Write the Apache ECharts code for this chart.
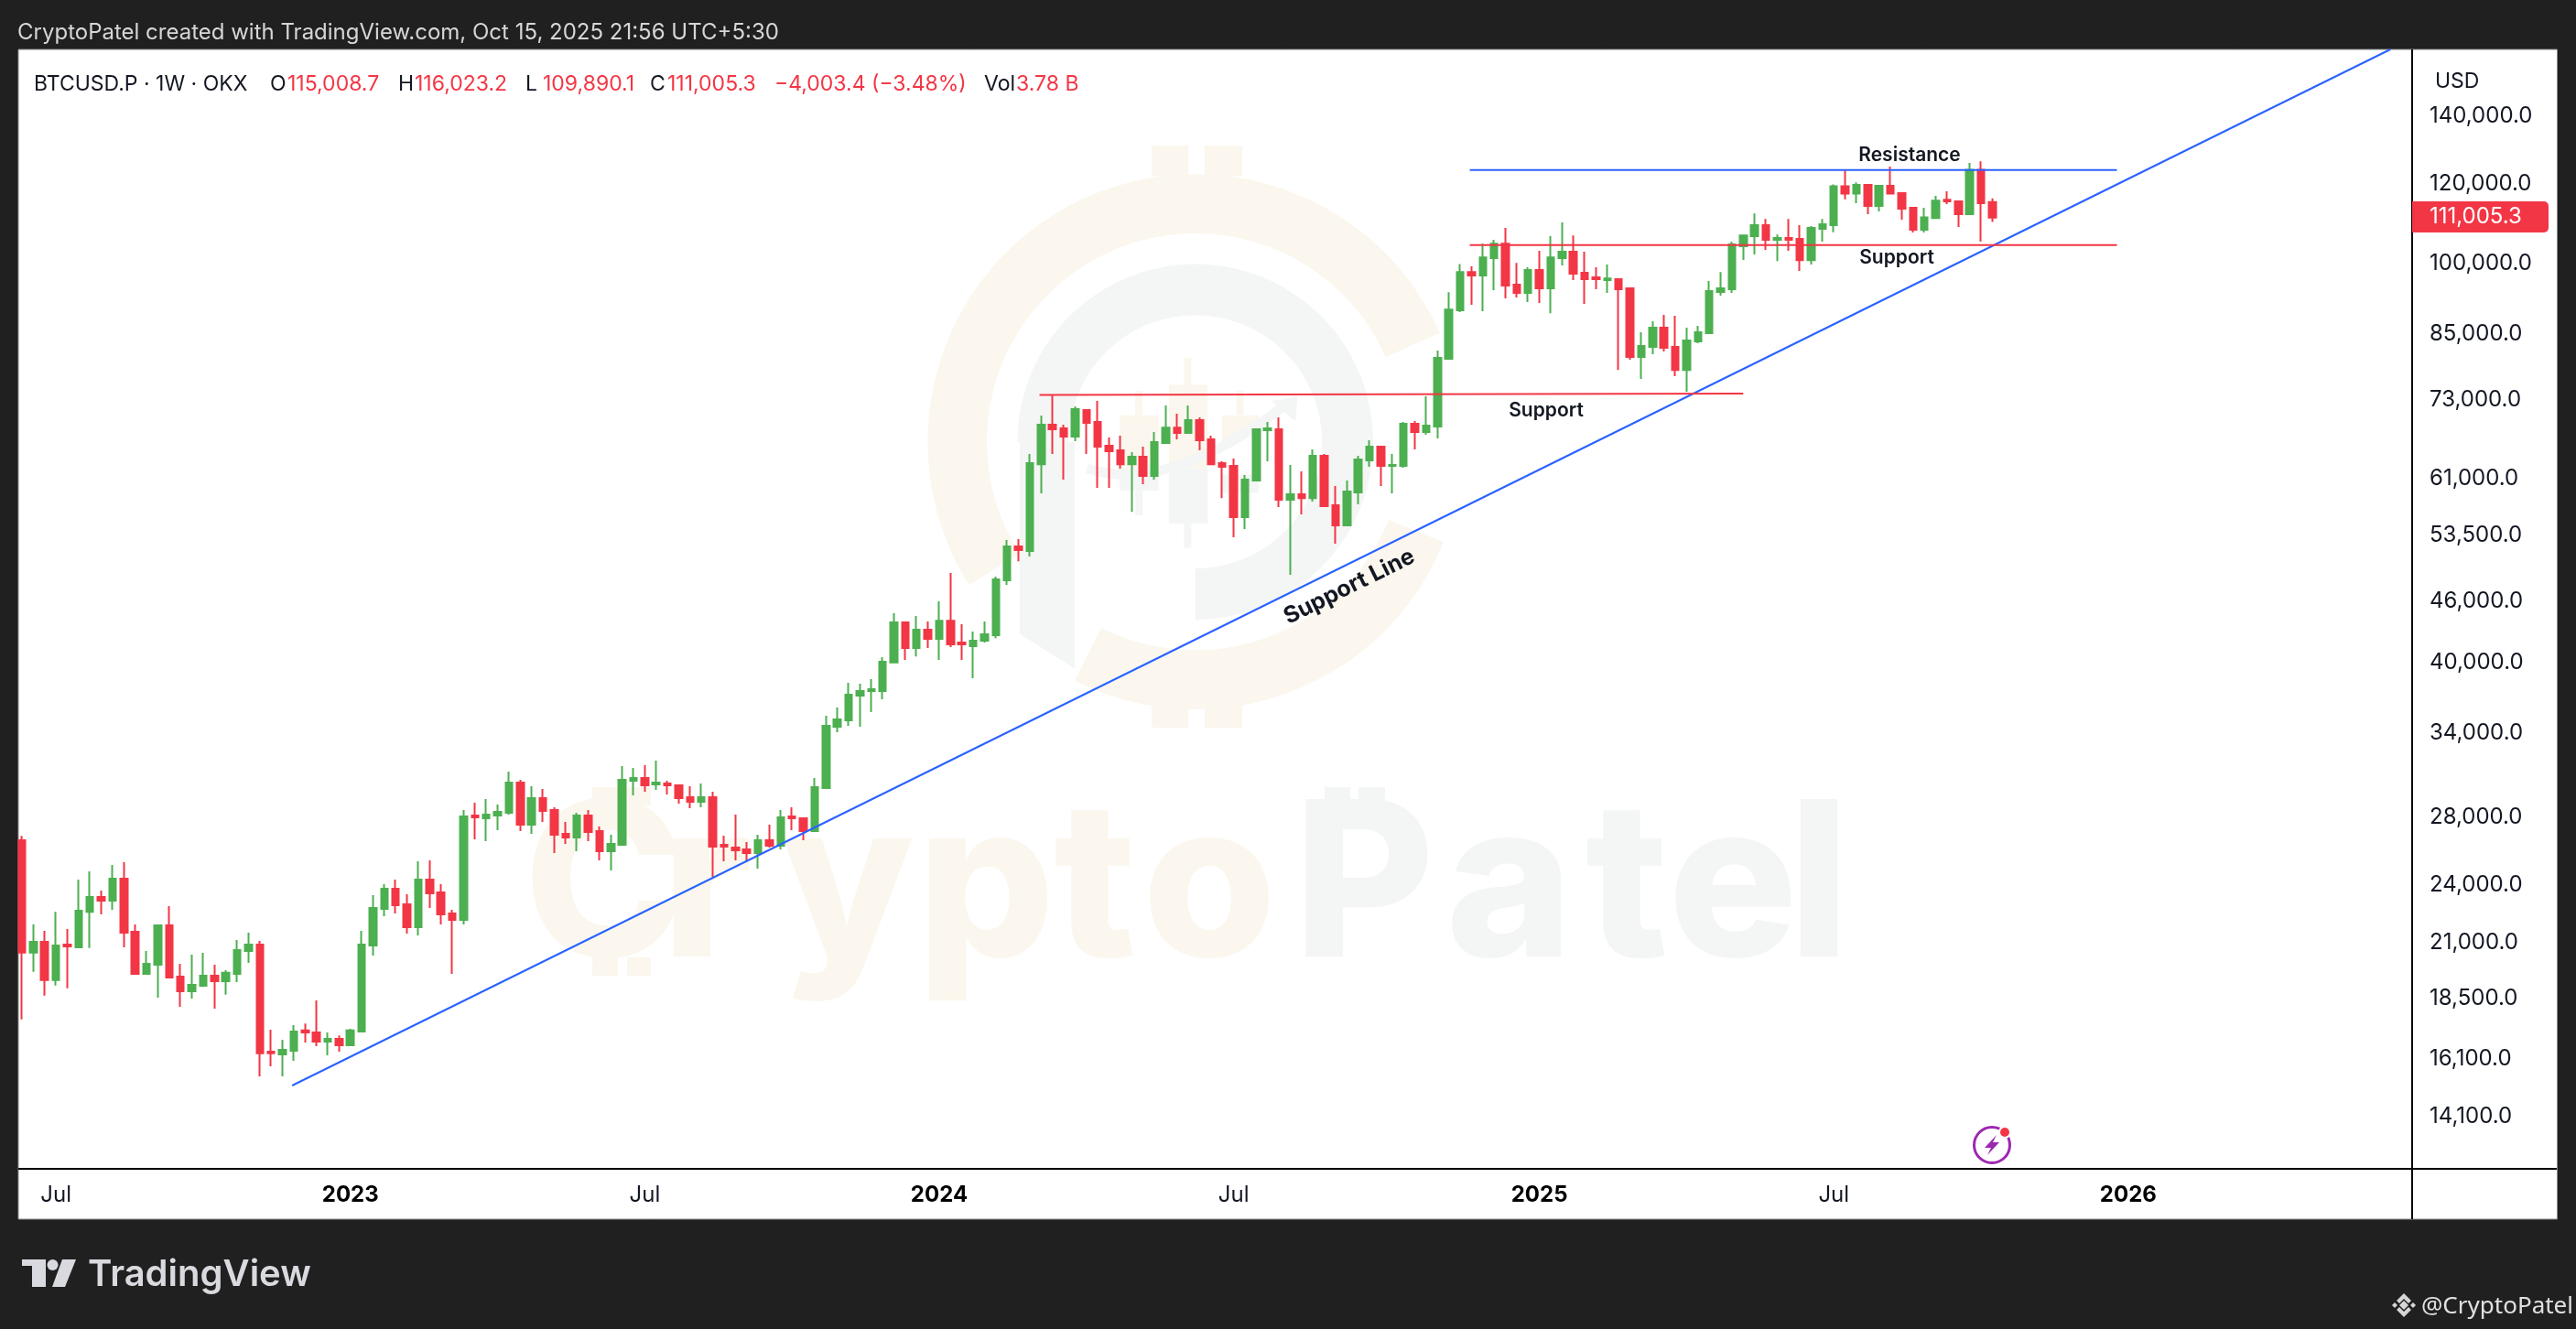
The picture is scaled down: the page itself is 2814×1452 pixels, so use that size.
<!DOCTYPE html>
<html><head><meta charset="utf-8">
<style>html,body{margin:0;padding:0;background:#202020}#c{width:2814px;height:1452px}</style>
<script src="https://cdn.jsdelivr.net/npm/echarts@6/dist/echarts.min.js"></script>
</head><body><div id="c"></div>
<script>
const firstWeek = Date.UTC(2022, 5, 13);
const opens = [26570,20530,21045,19280,20910,20780,22550,23330,23130,24330,
21540,19550,19970,21860,19430,18790,19030,19470,19230,19550,
20610,20910,16350,16250,16390,17170,17090,16740,16840,16600,
17130,20870,22700,23770,22940,21760,24280,23570,22460,22130,
28120,27950,28120,28300,30330,27540,29270,28480,26970,26740,
28120,27140,25910,26290,30460,30650,30210,30270,30140,29330,
29030,29330,26290,26130,26020,25800,26570,26240,28060,27950,
27140,29950,34490,34990,37030,37420,37420,39960,43810,41310,
43080,42190,43990,41830,41490,42010,42550,48260,52170,51620,
63010,68980,68400,67130,71340,69420,65720,65040,63010,64090,
61320,66140,68540,67690,69710,66700,63150,62760,55790,60680,
68120,68260,58060,58800,58300,64220,57330,54740,59040,63550,
65590,62760,62760,69130,67830,68690,80250,89700,97970,97160,
101110,104550,95140,93350,98390,94340,101110,102620,97770,96750,
96140,96340,94340,80590,82470,86190,82470,78240,83520,85110,
93550,94140,103910,106340,109090,105450,105900,105680,100680,108150,
109090,119300,117300,119640,113980,119400,117380,113500,107920,110900,
115660,115180,111850,123870,115008.7];
const closes = [20530,21050,19280,20870,20830,22600,23330,23130,24330,21490,
19550,20010,21860,19390,18790,19070,19470,19230,19600,20650,
20910,16290,16290,16420,17130,17090,16740,16840,16600,17170,
20910,22750,23770,22890,21760,24280,23520,22410,22130,28070,
28000,28180,28360,30330,27540,29270,28420,26910,26740,28120,
27080,25910,26350,30530,30650,30140,30330,30140,29270,29030,
29330,26190,26190,25960,25800,26570,26240,28000,27950,27140,
30020,34560,35060,37110,37420,37580,40030,43810,41310,43080,
42190,43990,41660,41660,42010,42640,48360,52170,51720,63150,
68980,68260,67130,71490,69270,65590,64900,63010,64090,61320,
66280,68540,67690,69710,66560,63010,62630,55790,60810,68260,
68400,58060,58800,58300,64220,57210,54740,59170,63690,65590,
62760,62890,69130,67830,68830,80420,89880,97970,97160,101320,
104550,94940,93350,98390,94340,101320,102620,97560,96340,96340,
96540,94140,80590,82640,86190,82300,78240,83690,85290,93750,
94340,104350,106560,109090,105450,105900,105450,100680,108370,109320,
119300,117300,119640,113980,119400,117300,113260,107920,111020,115420,
115180,111850,123870,114710,111005.3];
const lows = [17610,19650,18600,19040,18920,20750,20750,22410,22650,20780,
19520,19520,18510,19350,18130,18470,18980,18050,18640,19190,
20050,15450,15810,15450,16010,16700,16560,16220,16350,16560,
17100,20390,22320,22460,21450,21360,22750,21900,19550,21900,
26630,26520,27200,28180,27140,26970,27710,25800,26350,25910,
26520,25370,24790,26250,29450,29700,29830,29510,28900,28600,
28660,24430,25320,25370,25370,24900,26130,26020,27200,26570,
27100,29890,34050,34560,34490,35660,36730,39900,40200,40530,
41310,40200,41400,40200,38540,41830,42270,47760,50430,50970,
58920,64490,60810,66420,64490,59670,59670,62360,56490,60170,
60810,66100,66700,67650,65040,62970,58300,53270,54280,60640,
63420,57090,48870,56140,57820,57170,52490,54630,57460,62630,
59920,58920,62500,65180,67400,66840,80150,89330,90840,89510,
93960,92180,92380,91410,91220,89130,99430,96140,91030,94140,
93350,78240,80080,76620,81090,81610,77110,74400,83160,85070,
92770,93350,100690,102000,103040,100470,102840,98180,99640,105010,
107330,115760,114710,111850,112550,117060,110440,107280,107280,110670,
114470,108600,111630,105010,109890.1];
const highs = [26840,21900,21580,22550,21670,24280,24740,23670,25110,25270,
21900,20610,21900,22840,20010,20430,20520,19970,19720,21130,
21490,21090,17200,16810,17380,17450,18400,17090,16980,17240,
21580,23430,24020,24280,23480,25320,25370,24020,22650,28480,
28970,29210,28840,31110,30530,30080,29890,28660,27710,28300,
28480,27430,26910,31500,31370,31570,31900,30460,30160,30080,
30270,29700,26860,28180,26460,26910,27540,28480,28660,28000,
30650,35360,36040,38140,38060,38460,40450,44750,43850,44470,
43900,45980,49090,43630,42900,43900,48670,52930,53050,64490,
70440,73780,68980,71950,71490,72850,66980,67260,64770,65590,
67830,72090,70740,72090,70150,67260,63420,63820,61450,68400,
69420,70150,62890,61970,65180,64490,59920,60680,64220,66560,
65720,64490,69420,69560,73620,81780,93530,99760,99220,104550,
105450,108370,100050,99010,102840,106340,109750,106560,102620,99010,
99640,96540,94540,85290,87470,88770,88580,86190,86560,95940,
97970,105010,106780,112050,110670,106780,110670,109090,108860,110670,
119800,123870,120370,119880,119520,124780,117630,113700,113500,116660,
117880,115420,125810,126310,116023.2];
const priceTicks = [140000,120000,100000,85000,73000,61000,53500,46000,40000,34000,28000,24000,21000,18500,16100,14100];
const timeTicks = [Date.UTC(2022,6,4),Date.UTC(2023,0,2),Date.UTC(2023,6,3),Date.UTC(2024,0,1),Date.UTC(2024,6,1),Date.UTC(2025,0,6),Date.UTC(2025,6,7),Date.UTC(2026,0,5)];
const trendSupport = [[Date.UTC(2022,10,27),15130],[Date.UTC(2026,5,16),163300]];
const resistanceTop = [[Date.UTC(2024,10,24),123790],[Date.UTC(2025,11,29),123790]];
const supportTop = [[Date.UTC(2024,10,24),104190],[Date.UTC(2025,11,29),104190]];
const supportLow = [[Date.UTC(2024,2,3),73880],[Date.UTC(2025,4,12),74090]];
const WEEK = 7*86400000;
const candleData = opens.map((o,i)=>[firstWeek+i*WEEK,o,closes[i],lows[i],highs[i]]);

const UP='#4caf50',DOWN='#f23645',INK='#131722',BLUE='#2962ff',CREAM='#fbf7ee',GREY='#f4f5f5';
const F='Inter, Roboto, sans-serif';
const zx=x=>1000+x/2.24, zy=y=>130+y/2.24;
const deg=d=>d*Math.PI/180;
const rectZ=(x0,y0,x1,y1,fill)=>({type:'rect',z:0,silent:true,shape:{x:zx(x0),y:zy(y0),width:(x1-x0)/2.24,height:(y1-y0)/2.24},style:{fill}});
const polyZ=(pts,fill)=>({type:'polygon',z:0,silent:true,shape:{points:pts.map(p=>[zx(p[0]),zy(p[1])])},style:{fill}});
const ring=(r,r0,a,b,fill)=>({type:'sector',z:0,silent:true,shape:{cx:zx(685),cy:zy(790),r:r/2.24,r0:r0/2.24,startAngle:deg(a),endAngle:deg(b),clockwise:true},style:{fill}});
const txt=(x,y,text,fill,size,extra)=>Object.assign({type:'text',z:20,silent:true,x,y,style:Object.assign({text,fill,font:(extra&&extra.weight||'400')+' '+size+'px '+F,textAlign:(extra&&extra.align)||'left',textVerticalAlign:'middle'},{})},extra&&extra.rotation?{rotation:extra.rotation}:{});
const bigLetter=(ch,cx,fill)=>({type:'text',z:0,silent:true,x:cx,y:974,style:{text:ch,fill,font:'800 236px '+F,textAlign:'center',textVerticalAlign:'middle'}});
const pxRect=(x0,y0,x1,y1,fill)=>({type:'rect',z:0,silent:true,shape:{x:x0,y:y0,width:x1-x0,height:y1-y0},style:{fill}});

const graphic=[
 {type:'rect',z:-1,silent:true,shape:{x:20,y:54,width:2773.5,height:1278},style:{fill:'#fff',stroke:'#8a8a8a',lineWidth:1}},
 ring(655,510,147.6,336,CREAM), ring(655,510,22,116.8,CREAM),
 rectZ(578,65,668,140,CREAM),rectZ(708,65,800,140,CREAM),rectZ(578,1420,668,1490,CREAM),rectZ(708,1420,800,1490,CREAM),
 ring(435,310,180,450,GREY),
 polyZ([[255,790],[390,790],[390,1345],[255,1260]],GREY),
 rectZ(500,725,595,855,CREAM),rectZ(500,855,595,910,GREY),rectZ(538,665,556,725,CREAM),rectZ(538,910,556,970,GREY),
 rectZ(620,650,715,855,CREAM),rectZ(620,855,715,990,GREY),rectZ(657,585,675,650,CREAM),rectZ(657,990,675,1050,GREY),
 polyZ([[750,725],[840,725],[840,745],[750,800]],CREAM),rectZ(750,870,840,915,GREY),rectZ(785,665,803,725,CREAM),
 {type:'bezierCurve',z:0,silent:true,shape:{x1:zx(420),y1:zy(855),x2:zx(905),y2:zy(700),cpx1:zx(620),cpy1:zy(920)},style:{stroke:GREY,lineWidth:11,fill:'none'}},
 polyZ([[870,690],[935,680],[930,740]],GREY),
 bigLetter('C',660,CREAM),bigLetter('r',772,CREAM),bigLetter('y',926,CREAM),bigLetter('p',1077,CREAM),bigLetter('t',1196,CREAM),bigLetter('o',1321,CREAM),
 bigLetter('P',1490,GREY),bigLetter('a',1649,GREY),bigLetter('t',1777,GREY),bigLetter('e',1893,GREY),bigLetter('l',1987,GREY),
 pxRect(647,860,675,880,CREAM),pxRect(685,860,711,880,CREAM),pxRect(647,1046,675,1066,CREAM),pxRect(685,1046,711,1066,CREAM),
 pxRect(1447,860,1475,880,GREY),pxRect(1484,860,1513,880,GREY),
 {type:'line',z:15,silent:true,shape:{x1:2635,y1:54,x2:2635,y2:1332},style:{stroke:'#000',lineWidth:2}},
 {type:'line',z:15,silent:true,shape:{x1:20,y1:1277,x2:2793,y2:1277},style:{stroke:'#000',lineWidth:2}},
 txt(19,36,'CryptoPatel created with TradingView.com, Oct 15, 2025 21:56 UTC+5:30','#d6d6d6',24),
 txt(37,92,'BTCUSD.P · 1W · OKX',INK,23),
 txt(295,92,'O',INK,23),txt(314,92,'115,008.7',DOWN,23),
 txt(435,92,'H',INK,23),txt(453,92,'116,023.2',DOWN,23),
 txt(574,92,'L',INK,23),txt(593,92,'109,890.1',DOWN,23),
 txt(710,92,'C',INK,23),txt(729,92,'111,005.3',DOWN,23),
 txt(846,92,'−4,003.4 (−3.48%)',DOWN,23),
 txt(1075,92,'Vol',INK,23),txt(1110,92,'3.78 B',DOWN,23),
 txt(2660,89,'USD',INK,23),
 {type:'rect',z:18,silent:true,shape:{x:2635,y:220,width:149,height:34,r:[0,5,5,0]},style:{fill:DOWN}},
 txt(2654,237,'111,005.3','#fff',24),
 txt(2086,170,'Resistance',INK,21,{align:'center',weight:'600'}),
 txt(2072,282,'Support',INK,21,{align:'center',weight:'600'}),
 txt(1689,449,'Support',INK,21,{align:'center',weight:'600'}),
 txt(1474,641,'Support Line',INK,25,{align:'center',weight:'700',rotation:deg(26.3)}),
 {type:'circle',z:20,silent:true,shape:{cx:2176,cy:1251,r:19.5},style:{fill:'none',stroke:'#9c27b0',lineWidth:3}},
 {type:'polygon',z:20,silent:true,shape:{points:[[2181,1240],[2168,1254],[2175,1254],[2171,1262],[2184,1248],[2177,1248]]},style:{fill:'#9c27b0'}},
 {type:'circle',z:21,silent:true,shape:{cx:2190,cy:1237,r:7},style:{fill:'#fff'}},
 {type:'circle',z:22,silent:true,shape:{cx:2190,cy:1237,r:5},style:{fill:DOWN}},
 {type:'polygon',z:20,silent:true,shape:{points:[[24,1376],[50,1376],[50,1406],[35,1406],[35,1383],[24,1383]]},style:{fill:'#d9dadf'}},
 {type:'circle',z:20,silent:true,shape:{cx:57.5,cy:1382,r:6},style:{fill:'#d9dadf'}},
 {type:'polygon',z:20,silent:true,shape:{points:[[68,1376],[83,1376],[71,1406],[57,1406]]},style:{fill:'#d9dadf'}},
 txt(96,1393,'TradingView','#d9dadf',40,{weight:'600'}),
 {type:'polygon',z:20,silent:true,shape:{points:[[2626,1421],[2631,1426],[2626,1431],[2621,1426]]},style:{fill:'#d6d6d6'}},
 {type:'polygon',z:20,silent:true,shape:{points:[[2616,1423],[2619,1426],[2616,1429],[2613,1426]]},style:{fill:'#d6d6d6'}},
 {type:'polygon',z:20,silent:true,shape:{points:[[2636,1423],[2639,1426],[2636,1429],[2633,1426]]},style:{fill:'#d6d6d6'}},
 {type:'polygon',z:20,silent:true,shape:{points:[[2626,1413],[2634,1421],[2631,1424],[2626,1419],[2621,1424],[2618,1421]]},style:{fill:'#d6d6d6'}},
 {type:'polygon',z:20,silent:true,shape:{points:[[2626,1439],[2634,1431],[2631,1428],[2626,1433],[2621,1428],[2618,1431]]},style:{fill:'#d6d6d6'}},
 {type:'text',z:20,silent:true,x:2645,y:1428,style:{text:'@CryptoPatel',fill:'#e0e0e0',font:'400 26px "Noto Sans", sans-serif',textVerticalAlign:'middle'}}
];

const lineSeries=(data,color)=>({type:'line',data,showSymbol:false,silent:true,z:5,animation:false,lineStyle:{color,width:2},itemStyle:{color}});

const chart=echarts.init(document.getElementById('c'),null,{renderer:'canvas',devicePixelRatio:1});
chart.setOption({
 animation:false,
 backgroundColor:'transparent',
 grid:{left:20.5,right:2814-2635,top:54,bottom:1452-1277,containLabel:false},
 xAxis:{type:'value',scale:true,min:firstWeek-1.98*86400000,max:Date.UTC(2026,5,29,12),
  axisLine:{show:false},axisTick:{show:false},splitLine:{show:false},
  axisLabel:{customValues:timeTicks,margin:17,color:INK,fontFamily:F,fontSize:24,showMinLabel:true,showMaxLabel:true,hideOverlap:false,
   formatter:v=>{const d=new Date(v);return d.getUTCMonth()===0?'{b|'+d.getUTCFullYear()+'}':'Jul';},
   rich:{b:{fontWeight:700,fontSize:24,fontFamily:F,color:'#000'}}}},
 yAxis:{type:'log',position:'right',min:12497,max:163300,logBase:10,
  axisLine:{show:false},axisTick:{show:false},splitLine:{show:false},minorTick:{show:false},minorSplitLine:{show:false},
  axisLabel:{customValues:priceTicks,align:'left',margin:19,color:INK,fontFamily:F,fontSize:24,hideOverlap:false,
   formatter:v=>Number(v).toLocaleString('en-US',{minimumFractionDigits:1,maximumFractionDigits:1})}},
 tooltip:{show:false},
 graphic:{elements:graphic},
 series:[
  {type:'candlestick',data:candleData,barWidth:8,z:4,silent:true,progressive:0,animation:false,
   itemStyle:{color:UP,color0:DOWN,borderColor:UP,borderColor0:DOWN,borderWidth:2}},
  lineSeries(trendSupport,BLUE),
  lineSeries(resistanceTop,BLUE),
  lineSeries(supportTop,DOWN),
  lineSeries(supportLow,DOWN)
 ]
});
</script></body></html>
